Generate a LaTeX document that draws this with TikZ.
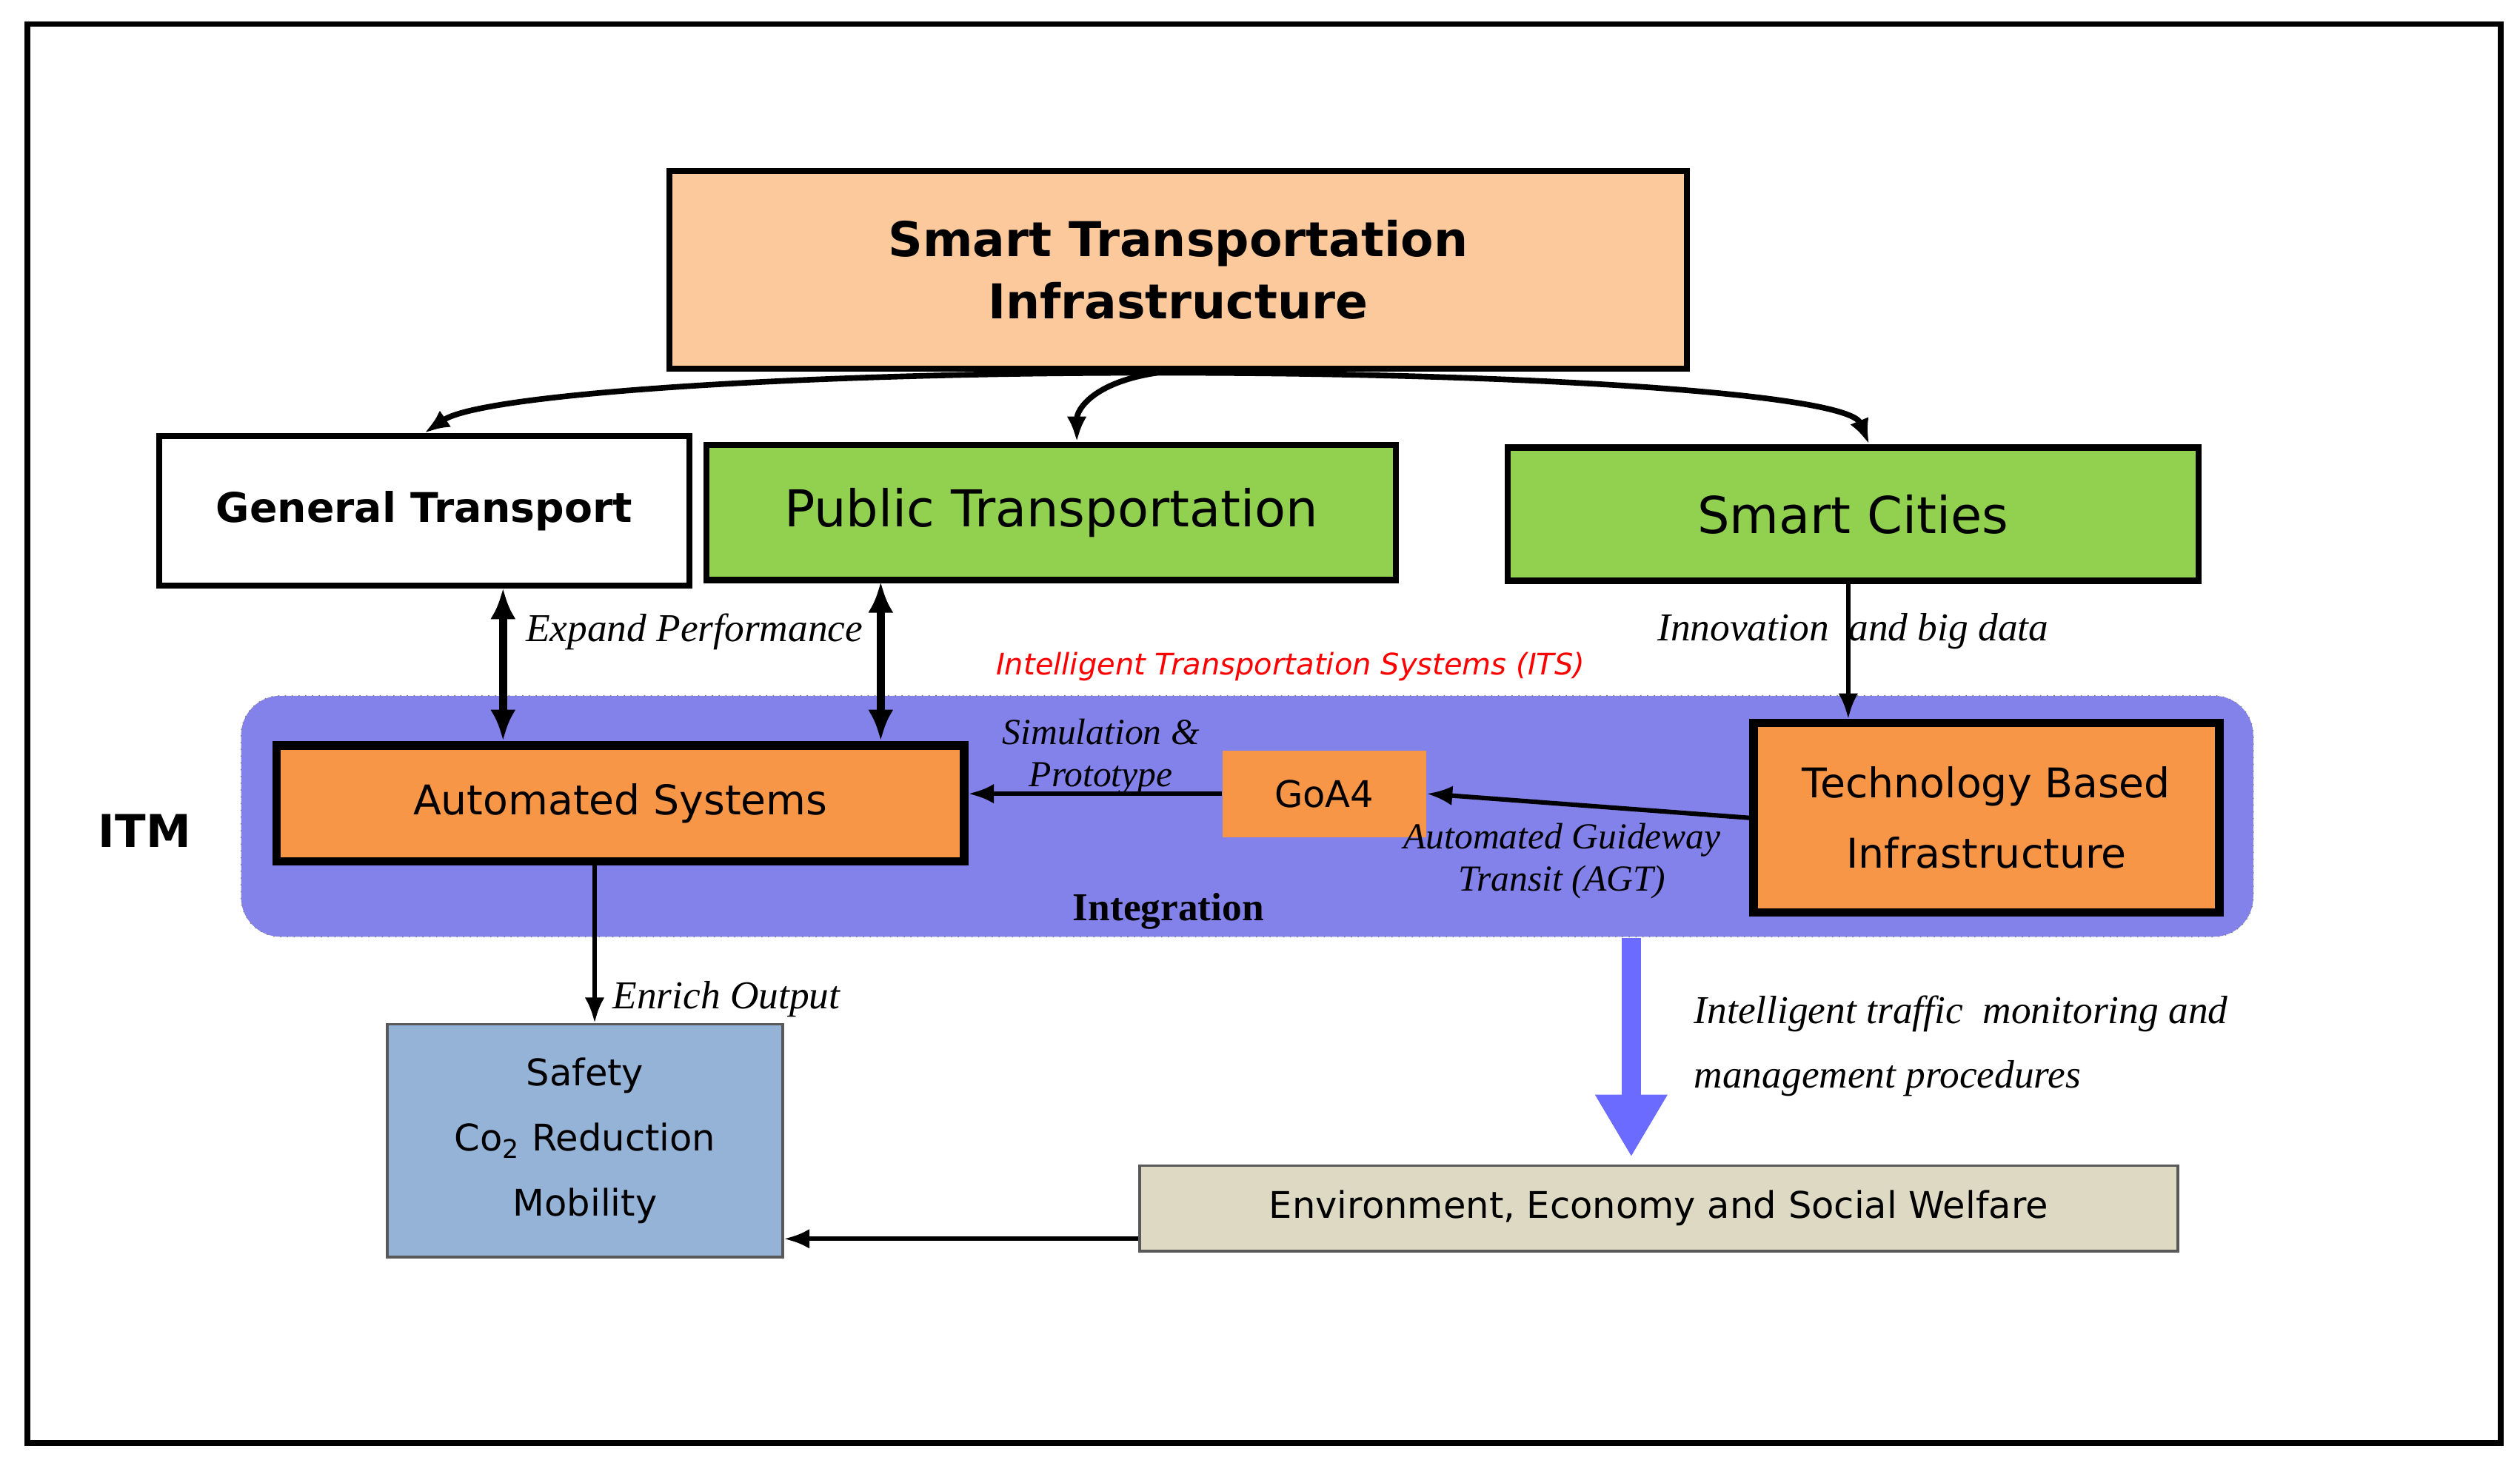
\documentclass[tikz,border=0pt]{standalone}
\usepackage{fontspec}
\setmainfont{Liberation Serif}
\newfontfamily\boxf{DejaVu Sans}
\usetikzlibrary{arrows.meta}
\definecolor{peach}{HTML}{FBC99B}
\definecolor{grn}{HTML}{92D050}
\definecolor{org}{HTML}{F79646}
\definecolor{itm}{HTML}{8282EA}
\definecolor{sky}{HTML}{95B3D7}
\definecolor{env}{HTML}{DDD9C3}
\definecolor{barrow}{HTML}{6B6BFF}
\tikzset{
 bx/.style={draw, line width=2.2pt, inner sep=0pt, font=\boxf},
 lab/.style={font=\fontsize{14}{16}\selectfont\itshape, inner sep=1pt},
 arr/.style={-{Latex[length=9pt,width=7pt]}, line width=1.6pt},
}
\begin{document}
\begin{tikzpicture}[x=0.02cm,y=-0.02cm]
\useasboundingbox (0,0) rectangle (1568,917);
\draw[line width=2pt] (17,15) rectangle (1556,898);
% ITM region
\draw[fill=itm, draw=gray, dotted, rounded corners=14pt] (150,433) rectangle (1402,583);
\node[bx, fill=peach, minimum width=633*0.02cm, minimum height=123*0.02cm, align=center,
  font=\boxf\bfseries\fontsize{17}{22}\selectfont] (sti) at (733,168) {Smart Transportation\\Infrastructure};
\node[bx, fill=white, minimum width=330*0.02cm, minimum height=93*0.02cm, font=\boxf\bfseries\fontsize{14.5}{17}\selectfont] (gt) at (264,318) {General Transport};
\node[bx, fill=grn, minimum width=429*0.02cm, minimum height=84*0.02cm, font=\boxf\fontsize{18}{20}\selectfont] (pt) at (654,319) {Public Transportation};
\node[bx, fill=grn, minimum width=430*0.02cm, minimum height=83*0.02cm, font=\boxf\fontsize{18}{20}\selectfont] (sc) at (1153,320) {Smart Cities};
\node[bx, line width=3pt, fill=org, minimum width=428*0.02cm, minimum height=72*0.02cm, font=\boxf\fontsize{14.5}{17}\selectfont] (as) at (386,500) {Automated Systems};
\node[bx, line width=3pt, fill=org, minimum width=290*0.02cm, minimum height=118*0.02cm, align=center, font=\boxf\fontsize{14.5}{25}\selectfont] (tbi) at (1236,509) {Technology Based\\Infrastructure};
\node[fill=org, minimum width=127*0.02cm, minimum height=54*0.02cm, inner sep=0pt, font=\boxf\fontsize{13}{15}\selectfont] (goa) at (824,494) {GoA4};
\node[draw=gray!70!black, line width=1pt, fill=sky, minimum width=246*0.02cm, minimum height=145*0.02cm, inner sep=0pt, align=center, font=\boxf\fontsize{13}{23}\selectfont] (saf) at (364,710) {Safety\\Co\textsubscript{2} Reduction\\Mobility};
\node[draw=gray!70!black, line width=1pt, fill=env, minimum width=646*0.02cm, minimum height=53*0.02cm, inner sep=0pt, font=\boxf\fontsize{13}{15}\selectfont] (env) at (1032,752) {Environment,\ Economy and Social Welfare};
\node[font=\boxf\bfseries\fontsize{16}{18}\selectfont] (itmlab) at (90,517) {ITM};
% labels
\node[lab] (l1) at (432,393) {Expand Performance};
\node[lab] (l2) at (1153,393) {Innovation \ and big data};
\node[font=\boxf\itshape\fontsize{10.5}{12}\selectfont, text=red] (l3) at (803,415) {Intelligent Transportation Systems (ITS)};
\node[lab, align=center, font=\fontsize{13}{15}\selectfont\itshape] (l4) at (685,471) {Simulation \&\\Prototype};
\node[lab, align=center, font=\fontsize{13}{15}\selectfont\itshape] (l5) at (972,536) {Automated Guideway\\Transit (AGT)};
\node[font=\bfseries\fontsize{14}{16}\selectfont] (l6) at (727,567) {Integration};
\node[lab] (l7) at (452,622) {Enrich Output};
\node[lab, align=left, anchor=west, font=\fontsize{14}{23}\selectfont\itshape] (l8) at (1052,651) {Intelligent traffic\ \ monitoring and\\management procedures};
% curved arrows
\coordinate (top) at (720,232);
\draw[arr, line width=2pt] (top) .. controls (500,232) and (300,245) .. (gt.north);
\draw[arr, line width=2pt] (top) .. controls (680,238) and (670,255) .. ([xshift=16*0.02cm]pt.north);
\draw[arr, line width=2pt] (top) .. controls (950,232) and (1150,245) .. ([xshift=10*0.02cm]sc.north);
% double arrows
\draw[{Latex[length=11pt,width=9pt]}-{Latex[length=11pt,width=9pt]}, line width=3pt] (313,366) -- (313,461);
\draw[{Latex[length=11pt,width=9pt]}-{Latex[length=11pt,width=9pt]}, line width=3pt] (548,362) -- (548,461);
\draw[arr] (1150,362) -- (tbi.north -| 1150,0);
\draw[arr] (tbi.west) -- (goa.east);
\draw[arr] (goa.west) -- (as.east |- goa.west);
\draw[arr] (370,537) -- (saf.north -| 370,0);
\draw[arr] (env.west |- 0,771) -- (saf.east |- 0,771);
\draw[-{Triangle[length=22pt,width=24pt]}, line width=7pt, barrow] (1015,584) -- (1015,720);
\end{tikzpicture}
\end{document}
